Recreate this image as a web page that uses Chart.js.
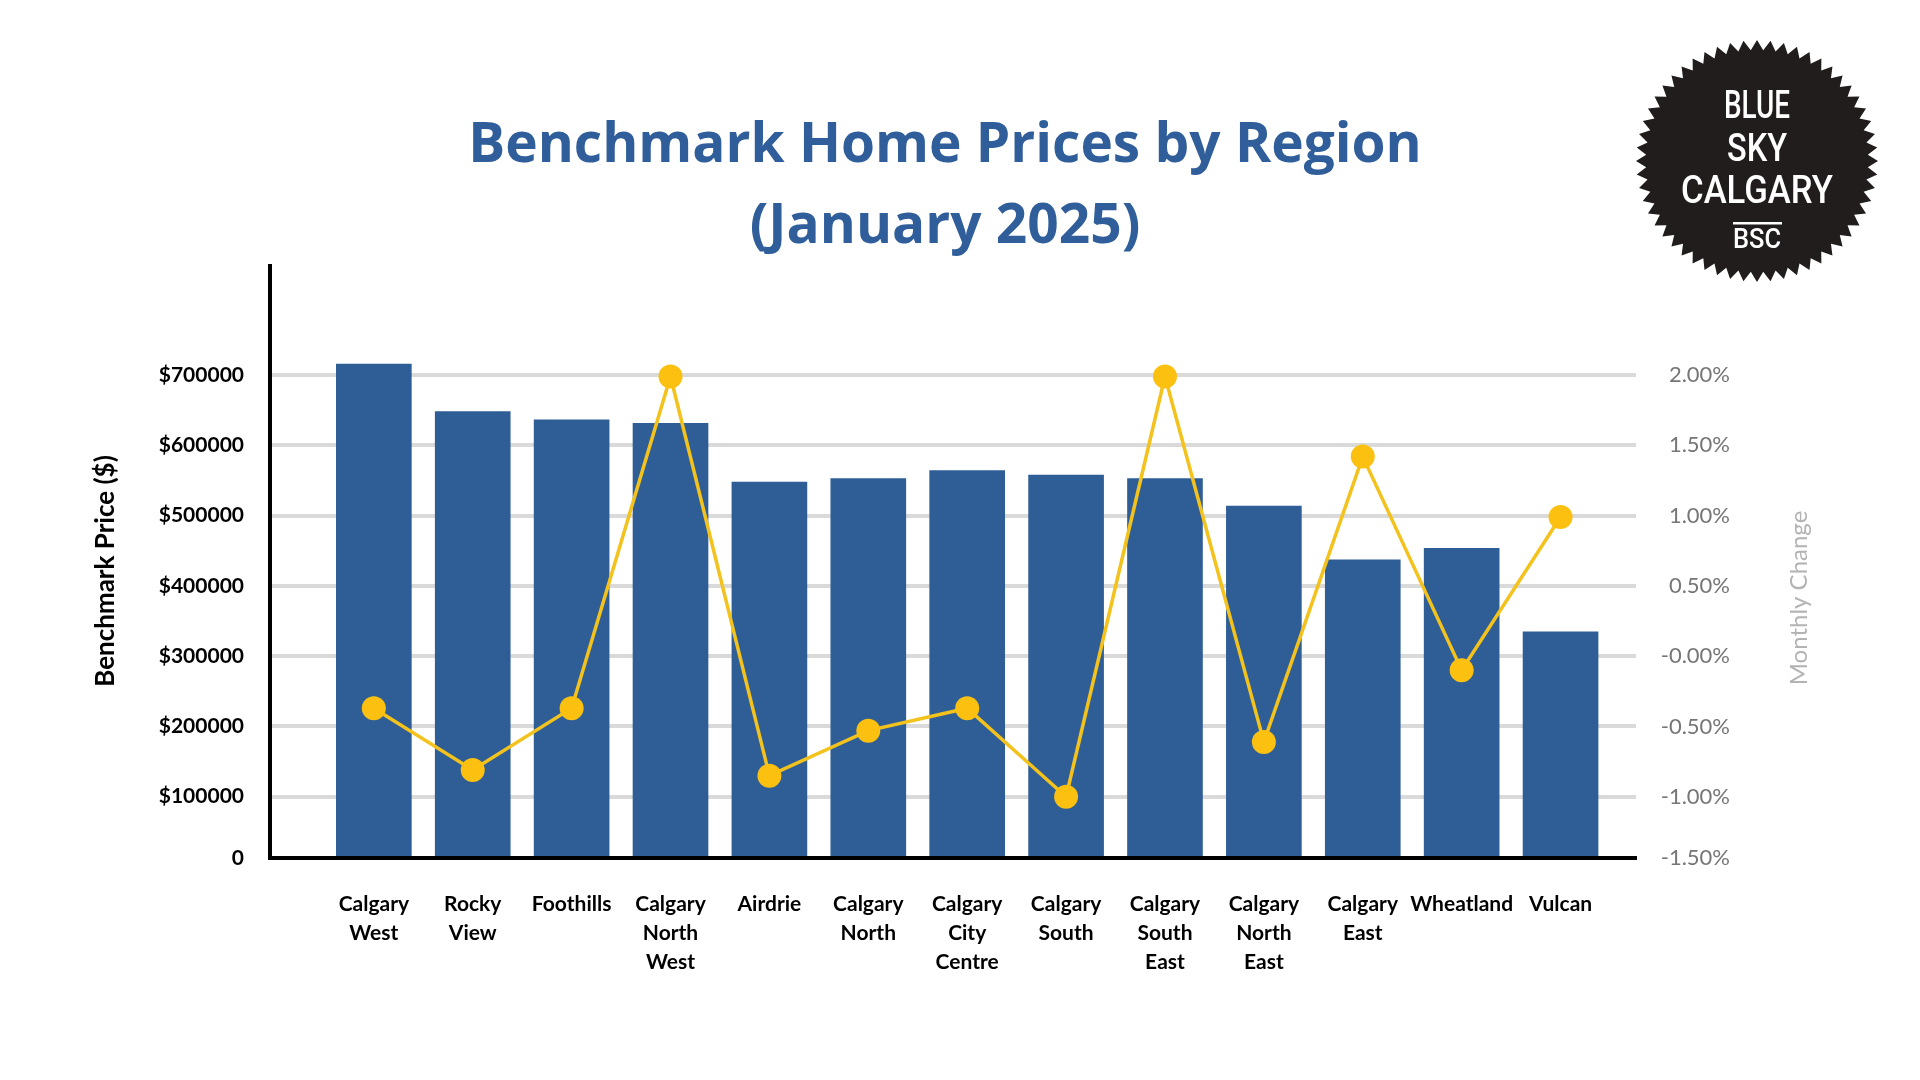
<!DOCTYPE html>
<html>
<head>
<meta charset="utf-8">
<title>Benchmark Home Prices by Region (January 2025)</title>
<script src="https://cdn.jsdelivr.net/npm/chart.js@4.4.1/dist/chart.umd.min.js"></script>
<style>
    html, body { margin: 0; padding: 0; background: #ffffff; }
    #wrap { width: 1920px; height: 1080px; position: relative; }
</style>
</head>
<body>
<div id="wrap"><canvas id="chartCanvas" width="1920" height="1080"></canvas></div>
<script>
// regions, left to right
const regions = ['Calgary West', 'Rocky View', 'Foothills', 'Calgary North West', 'Airdrie', 'Calgary North',
    'Calgary City Centre', 'Calgary South', 'Calgary South East', 'Calgary North East', 'Calgary East', 'Wheatland', 'Vulcan'];
// benchmark price ($) - bars on the left axis
const benchmarkPrices = [716000, 648500, 636500, 631500, 548000, 553000, 564500, 558000, 553000, 514000, 437500, 454000, 335000];
// monthly change (%) - line on the right axis
const monthlyChange = [-0.37, -0.81, -0.37, 1.99, -0.85, -0.53, -0.37, -1.00, 1.99, -0.61, 1.42, -0.10, 0.99];

// axis ticks as printed on the chart
const priceTicks = [0, 100000, 200000, 300000, 400000, 500000, 600000, 700000];
const priceTickLabels = ['0', '$100000', '$200000', '$300000', '$400000', '$500000', '$600000', '$700000'];
const changeTicks = [-1.5, -1.0, -0.5, 0, 0.5, 1.0, 1.5, 2.0];
const changeTickLabels = ['-1.50%', '-1.00%', '-0.50%', '-0.00%', '0.50%', '1.00%', '1.50%', '2.00%'];

const BLUE = '#2F5E97';
const GOLD = '#FBC010';

// draws the "Blue Sky Calgary" badge in the top right corner
function drawBadge(ctx, cx, cy) {
    const teeth = 56, outerR = 121, innerR = 111;
    ctx.save();
    ctx.beginPath();
    for (let i = 0; i < teeth * 2; i++) {
        const r = i % 2 === 0 ? outerR : innerR;
        const a = (Math.PI * i) / teeth - Math.PI / 2;
        const px = cx + r * Math.cos(a);
        const py = cy + r * Math.sin(a);
        if (i === 0) ctx.moveTo(px, py); else ctx.lineTo(px, py);
    }
    ctx.closePath();
    ctx.fillStyle = '#211d1d';
    ctx.fill();

    ctx.fillStyle = '#ffffff';
    ctx.textAlign = 'center';
    ctx.textBaseline = 'middle';
    ctx.font = '500 38px Roboto';
    ctx.fillText('BLUE', cx, cy - 53, 66);
    ctx.fillText('SKY', cx, cy - 10, 60);
    ctx.fillText('CALGARY', cx, cy + 32, 152);
    ctx.fillRect(cx - 24, cy + 61, 49, 2.5);
    ctx.font = '500 28px Roboto';
    ctx.fillText('BSC', cx, cy + 80, 48);
    ctx.restore();
}

// axis titles, right-hand tick labels and the badge
const extrasPlugin = {
    id: 'extras',
    afterDraw(chart) {
        const ctx = chart.ctx;
        const y1 = chart.scales.y1;

        // right tick labels, right aligned
        ctx.save();
        ctx.font = '400 22px Lato';
        ctx.fillStyle = '#767676';
        ctx.textAlign = 'right';
        ctx.textBaseline = 'middle';
        changeTicks.forEach((v, i) => {
            const py = y1.getPixelForValue(Math.max(v, y1.min));
            ctx.fillText(changeTickLabels[i], 1730, py);
        });
        ctx.restore();

        // left axis title
        ctx.save();
        ctx.translate(106, 571);
        ctx.rotate(-Math.PI / 2);
        ctx.font = '700 26px Lato';
        ctx.fillStyle = '#000000';
        ctx.textAlign = 'center';
        ctx.textBaseline = 'middle';
        ctx.fillText('Benchmark Price ($)', 0, 0);
        ctx.restore();

        // right axis title reads bottom to top, like the left one
        ctx.save();
        ctx.translate(1799, 598);
        ctx.rotate(-Math.PI / 2);
        ctx.font = '400 24px Lato';
        ctx.fillStyle = '#b3b3b3';
        ctx.textAlign = 'center';
        ctx.textBaseline = 'middle';
        ctx.fillText('Monthly Change', 0, 0);
        ctx.restore();

        drawBadge(ctx, 1757, 161);
    }
};

Chart.defaults.font.family = 'Lato';

const ctx = document.getElementById('chartCanvas').getContext('2d');
new Chart(ctx, {
    type: 'bar',
    data: {
        datasets: [
            {
                type: 'line',
                label: 'Monthly Change',
                data: regions.map((_, i) => ({ x: i, y: monthlyChange[i] })),
                yAxisID: 'y1',
                order: 0,
                borderColor: '#F3C21C',
                borderWidth: 3.5,
                pointRadius: 12,
                pointBackgroundColor: GOLD,
                pointBorderWidth: 0,
                tension: 0
            },
            {
                type: 'bar',
                label: 'Benchmark Price',
                data: regions.map((_, i) => ({ x: i, y: benchmarkPrices[i] })),
                yAxisID: 'y',
                order: 1,
                backgroundColor: BLUE,
                barPercentage: 0.765,
                categoryPercentage: 1,
                clip: 0
            }
        ]
    },
    options: {
        responsive: false,
        animation: false,
        devicePixelRatio: 1,
        layout: { padding: { left: 0, right: 30, top: 0, bottom: 0 } },
        plugins: {
            legend: { display: false },
            tooltip: { enabled: false },
            title: {
                display: true,
                text: ['Benchmark Home Prices by Region', '(January 2025)'],
                color: '#2F5E9A',
                font: { family: 'Open Sans', size: 55, weight: 700, lineHeight: 1.473 },
                padding: { top: 106.2, bottom: -2.2 }
            }
        },
        scales: {
            x: {
                type: 'linear',
                offset: false,
                min: -1.05,
                max: 12.763,
                grid: { display: false, drawTicks: false, offset: false },
                border: { display: true, color: '#000000', width: 4, z: 1 },
                afterBuildTicks: (scale) => {
                    scale.ticks = regions.map((_, i) => ({ value: i }));
                },
                afterFit: (scale) => { scale.height = 222; },
                ticks: {
                    autoSkip: false,
                    maxRotation: 0,
                    minRotation: 0,
                    padding: 31.5,
                    color: '#000000',
                    font: { size: 21, weight: 700, lineHeight: 1.38 },
                    callback: (value, index) => regions[index].split(' ')
                }
            },
            y: {
                position: 'left',
                min: 12800,
                max: 855000,
                grid: {
                    color: (c) => c.index === 0 ? 'rgba(0,0,0,0)' : '#dadada',
                    lineWidth: 4,
                    drawTicks: false
                },
                border: { display: true, color: '#000000', width: 4, z: 1 },
                afterBuildTicks: (scale) => {
                    scale.ticks = priceTicks.map(v => ({ value: Math.max(v, scale.min) }));
                },
                afterFit: (scale) => { scale.width = 270; },
                ticks: {
                    padding: 26,
                    color: '#000000',
                    font: { size: 21, weight: 700 },
                    callback: (value, index) => priceTickLabels[index]
                }
            },
            y1: {
                position: 'right',
                min: -1.436,
                max: 2.776,
                grid: { display: false, drawTicks: false },
                border: { display: false },
                ticks: { display: false },
                afterFit: (scale) => { scale.width = 254; }
            }
        }
    },
    plugins: [extrasPlugin]
});
</script>
</body>
</html>
